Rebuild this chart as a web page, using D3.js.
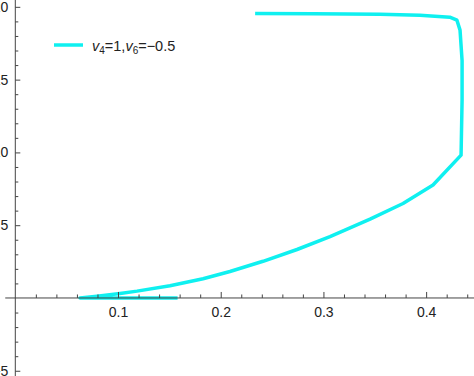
<!DOCTYPE html>
<html>
<head>
<meta charset="utf-8">
<script src="https://cdn.jsdelivr.net/npm/d3@7"></script>
<style>
    body { margin: 0; background: #fff; }
    #chart { width: 474px; height: 376px; overflow: hidden; }
    .axis text { font-family: "Liberation Sans", Arial, sans-serif; font-size: 14px; fill: #222; }
    .axis line { stroke: #444; }
</style>
</head>
<body>
<div id="chart"></div>
<script>

// curve values (x, y pairs in order along the line)
let curveX = [0.158, 0.063, 0.0795, 0.102, 0.1185, 0.1506, 0.1828, 0.209, 0.2412, 0.2743, 0.3064,
    0.3454, 0.3775, 0.4067, 0.434, 0.435, 0.435, 0.433, 0.430, 0.423, 0.394, 0.355, 0.290, 0.2335];
let curveY = [0, 0, 0.12, 0.31, 0.47, 0.84, 1.32, 1.82, 2.52, 3.33, 4.22,
    5.42, 6.49, 7.76, 9.81, 13.6, 16.3, 18.4, 19.08, 19.29, 19.42, 19.49, 19.52, 19.54];

// ticks
let xMajorTicks = [0.1, 0.2, 0.3, 0.4];
let xMinorTicks = d3.range(1, 23).map(i => i * 0.02).filter(v => Math.abs(v * 10 - Math.round(v * 10)) > 1e-6);
let yMajorTicks = [-5, 5, 10, 15, 20];
let yMinorTicks = d3.range(-5, 21).filter(v => v % 5 !== 0);

let legendLabel = {name: "v", sub1: "4", mid: "=1,", sub2: "6", end: "=\u22120.5"};

class curveVis {

    constructor(parentElement) {
        this.parentElement = parentElement;
        this.displayData = curveX.map((x, i) => ({x: x, y: curveY[i]}));
        this.initVis();
    }

    initVis() {
        let vis = this;

        vis.width = 474;
        vis.height = 376;

        vis.svg = d3.select("#" + vis.parentElement).append("svg")
            .attr("width", vis.width)
            .attr("height", vis.height);

        // scales, origin sits at (15, 298)
        vis.xScale = d3.scaleLinear()
            .domain([-0.0149, 0.4466])
            .range([0, vis.width]);

        vis.yScale = d3.scaleLinear()
            .domain([-5.36, 20.47])
            .range([vis.height, 0]);

        // curve goes under the axes
        vis.line = d3.line()
            .x(d => vis.xScale(d.x))
            .y(d => vis.yScale(d.y));

        vis.svg.append("path")
            .datum(vis.displayData)
            .attr("d", vis.line)
            .attr("fill", "none")
            .attr("stroke", "#0ff0f0")
            .attr("stroke-width", 3.5)
            .attr("stroke-linejoin", "round");

        // x axis: ticks point up
        let xg = vis.svg.append("g")
            .attr("class", "axis x-axis")
            .attr("transform", "translate(0," + vis.yScale(0) + ")");

        xg.append("line")
            .attr("x1", vis.xScale(-0.0098))
            .attr("x2", vis.width)
            .attr("y1", 0).attr("y2", 0);

        xg.append("g").call(d3.axisBottom(vis.xScale)
            .tickValues(xMinorTicks)
            .tickSizeInner(-3.5).tickSizeOuter(0)
            .tickFormat(""))
            .call(g => g.select(".domain").remove());

        xg.append("g").call(d3.axisBottom(vis.xScale)
            .tickValues(xMajorTicks)
            .tickSizeInner(-6).tickSizeOuter(0)
            .tickPadding(9)
            .tickFormat(d3.format(".1f")))
            .call(g => g.select(".domain").remove());

        // y axis: ticks point right, labels cut by the left edge
        let yg = vis.svg.append("g")
            .attr("class", "axis y-axis")
            .attr("transform", "translate(" + vis.xScale(0) + ",0)");

        yg.append("line")
            .attr("x1", 0).attr("x2", 0)
            .attr("y1", 0).attr("y2", vis.height);

        yg.append("g").call(d3.axisLeft(vis.yScale)
            .tickValues(yMinorTicks)
            .tickSizeInner(-3).tickSizeOuter(0)
            .tickFormat(""))
            .call(g => g.select(".domain").remove());

        yg.append("g").call(d3.axisLeft(vis.yScale)
            .tickValues(yMajorTicks)
            .tickSizeInner(-5).tickSizeOuter(0)
            .tickPadding(7)
            .tickFormat(d => d < 0 ? "\u2212" + Math.abs(d) : d))
            .call(g => g.select(".domain").remove());

        // legend
        let lg = vis.svg.append("g")
            .attr("transform", "translate(54,45)");

        lg.append("line")
            .attr("x1", 0).attr("x2", 29)
            .attr("stroke", "#0ff0f0")
            .attr("stroke-width", 3.5);

        let txt = lg.append("text")
            .attr("x", 38)
            .attr("y", 5.5)
            .style("font-family", "'Liberation Sans', Arial, sans-serif")
            .style("font-size", "14.5px")
            .style("fill", "#222");

        txt.append("tspan").style("font-style", "italic").text(legendLabel.name);
        txt.append("tspan").attr("dy", 3).style("font-size", "10px").text(legendLabel.sub1);
        txt.append("tspan").attr("dy", -3).text(legendLabel.mid);
        txt.append("tspan").style("font-style", "italic").text(legendLabel.name);
        txt.append("tspan").attr("dy", 3).style("font-size", "10px").text(legendLabel.sub2);
        txt.append("tspan").attr("dy", -3).text(legendLabel.end);
    }
}

new curveVis("chart");

</script>
</body>
</html>
